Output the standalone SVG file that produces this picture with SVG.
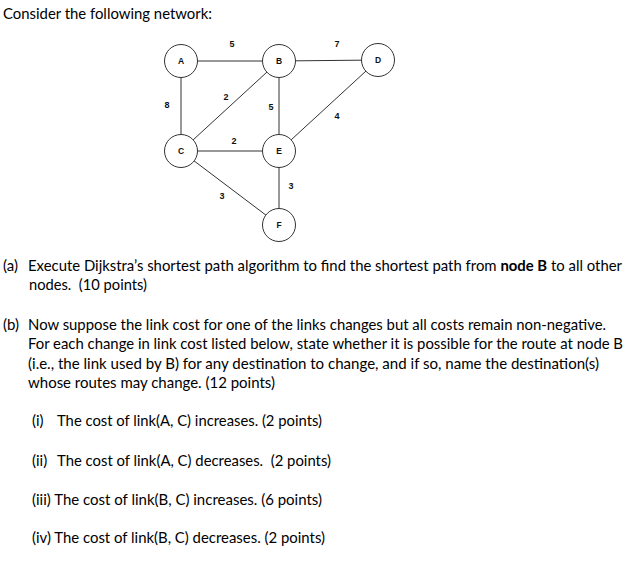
<svg xmlns="http://www.w3.org/2000/svg" width="638" height="566" viewBox="0 0 638 566">
<style>
.t{font-family:Lato,"Liberation Sans",sans-serif;font-size:15px;fill:#000}
.edge{stroke:#333;stroke-width:1;fill:none}
.node circle{fill:#fff;stroke:#333;stroke-width:1}
.node text{font-family:"Liberation Sans",Arial,sans-serif;font-size:8.5px;font-weight:bold;fill:#111;text-anchor:middle}
.lbl{font-family:"Liberation Sans",Arial,sans-serif;font-size:9px;font-weight:bold;fill:#111;text-anchor:middle}
</style>
<rect width="638" height="566" fill="#fff"/>
<text class="t" x="3" y="19" textLength="209" lengthAdjust="spacingAndGlyphs">Consider the following network:</text>
<g id="connectors">
<line class="edge" x1="181" y1="61" x2="279" y2="61"/>
<line class="edge" x1="279" y1="61" x2="378" y2="60"/>
<line class="edge" x1="181" y1="61" x2="181" y2="151"/>
<line class="edge" x1="279" y1="61" x2="181" y2="151"/>
<line class="edge" x1="279" y1="61" x2="279" y2="151"/>
<line class="edge" x1="378" y1="60" x2="279" y2="151"/>
<line class="edge" x1="181" y1="151" x2="279" y2="151"/>
<line class="edge" x1="181" y1="151" x2="279" y2="225"/>
<line class="edge" x1="279" y1="151" x2="279" y2="225"/>
<text class="lbl" x="232" y="47">5</text>
<text class="lbl" x="337" y="47">7</text>
<text class="lbl" x="167" y="108">8</text>
<text class="lbl" x="226" y="100">2</text>
<text class="lbl" x="271" y="110">5</text>
<text class="lbl" x="337" y="119">4</text>
<text class="lbl" x="234" y="144">2</text>
<text class="lbl" x="291" y="189">3</text>
<text class="lbl" x="222" y="199">3</text>
</g>
<g id="node-A" class="node"><circle cx="181" cy="61" r="16.5"/><text x="181" y="64">A</text></g>
<g id="node-B" class="node"><circle cx="279" cy="61" r="16.5"/><text x="279" y="64">B</text></g>
<g id="node-D" class="node"><circle cx="378" cy="60" r="16.5"/><text x="378" y="63">D</text></g>
<g id="node-C" class="node"><circle cx="181" cy="151" r="16.5"/><text x="181" y="154">C</text></g>
<g id="node-E" class="node"><circle cx="279" cy="151" r="16.5"/><text x="279" y="154">E</text></g>
<g id="node-F" class="node"><circle cx="279" cy="225" r="16.5"/><text x="279" y="228">F</text></g>
<text class="t" x="3" y="271">(a)</text>
<text class="t" x="28" y="271" textLength="594" lengthAdjust="spacingAndGlyphs">Execute Dijkstra’s shortest path algorithm to find the shortest path from <tspan font-weight="bold">node B</tspan> to all other</text>
<text class="t" x="29" y="290" textLength="118" lengthAdjust="spacingAndGlyphs">nodes.&#160; (10 points)</text>
<text class="t" x="3" y="330">(b)</text>
<text class="t" x="28" y="330" textLength="578" lengthAdjust="spacingAndGlyphs">Now suppose the link cost for one of the links changes but all costs remain non-negative.</text>
<text class="t" x="28" y="349" textLength="595" lengthAdjust="spacingAndGlyphs">For each change in link cost listed below, state whether it is possible for the route at node B</text>
<text class="t" x="28" y="369" textLength="571" lengthAdjust="spacingAndGlyphs">(i.e., the link used by B) for any destination to change, and if so, name the destination(s)</text>
<text class="t" x="28" y="388" textLength="247" lengthAdjust="spacingAndGlyphs">whose routes may change. (12 points)</text>
<text class="t" x="32" y="426">(i)</text>
<text class="t" x="57" y="426" textLength="265" lengthAdjust="spacingAndGlyphs">The cost of link(A, C) increases. (2 points)</text>
<text class="t" x="32" y="466">(ii)</text>
<text class="t" x="57" y="466" textLength="274" lengthAdjust="spacingAndGlyphs">The cost of link(A, C) decreases.&#160; (2 points)</text>
<text class="t" x="32" y="505" textLength="290" lengthAdjust="spacingAndGlyphs">(iii) The cost of link(B, C) increases. (6 points)</text>
<text class="t" x="32" y="543" textLength="293" lengthAdjust="spacingAndGlyphs">(iv) The cost of link(B, C) decreases. (2 points)</text>
</svg>
